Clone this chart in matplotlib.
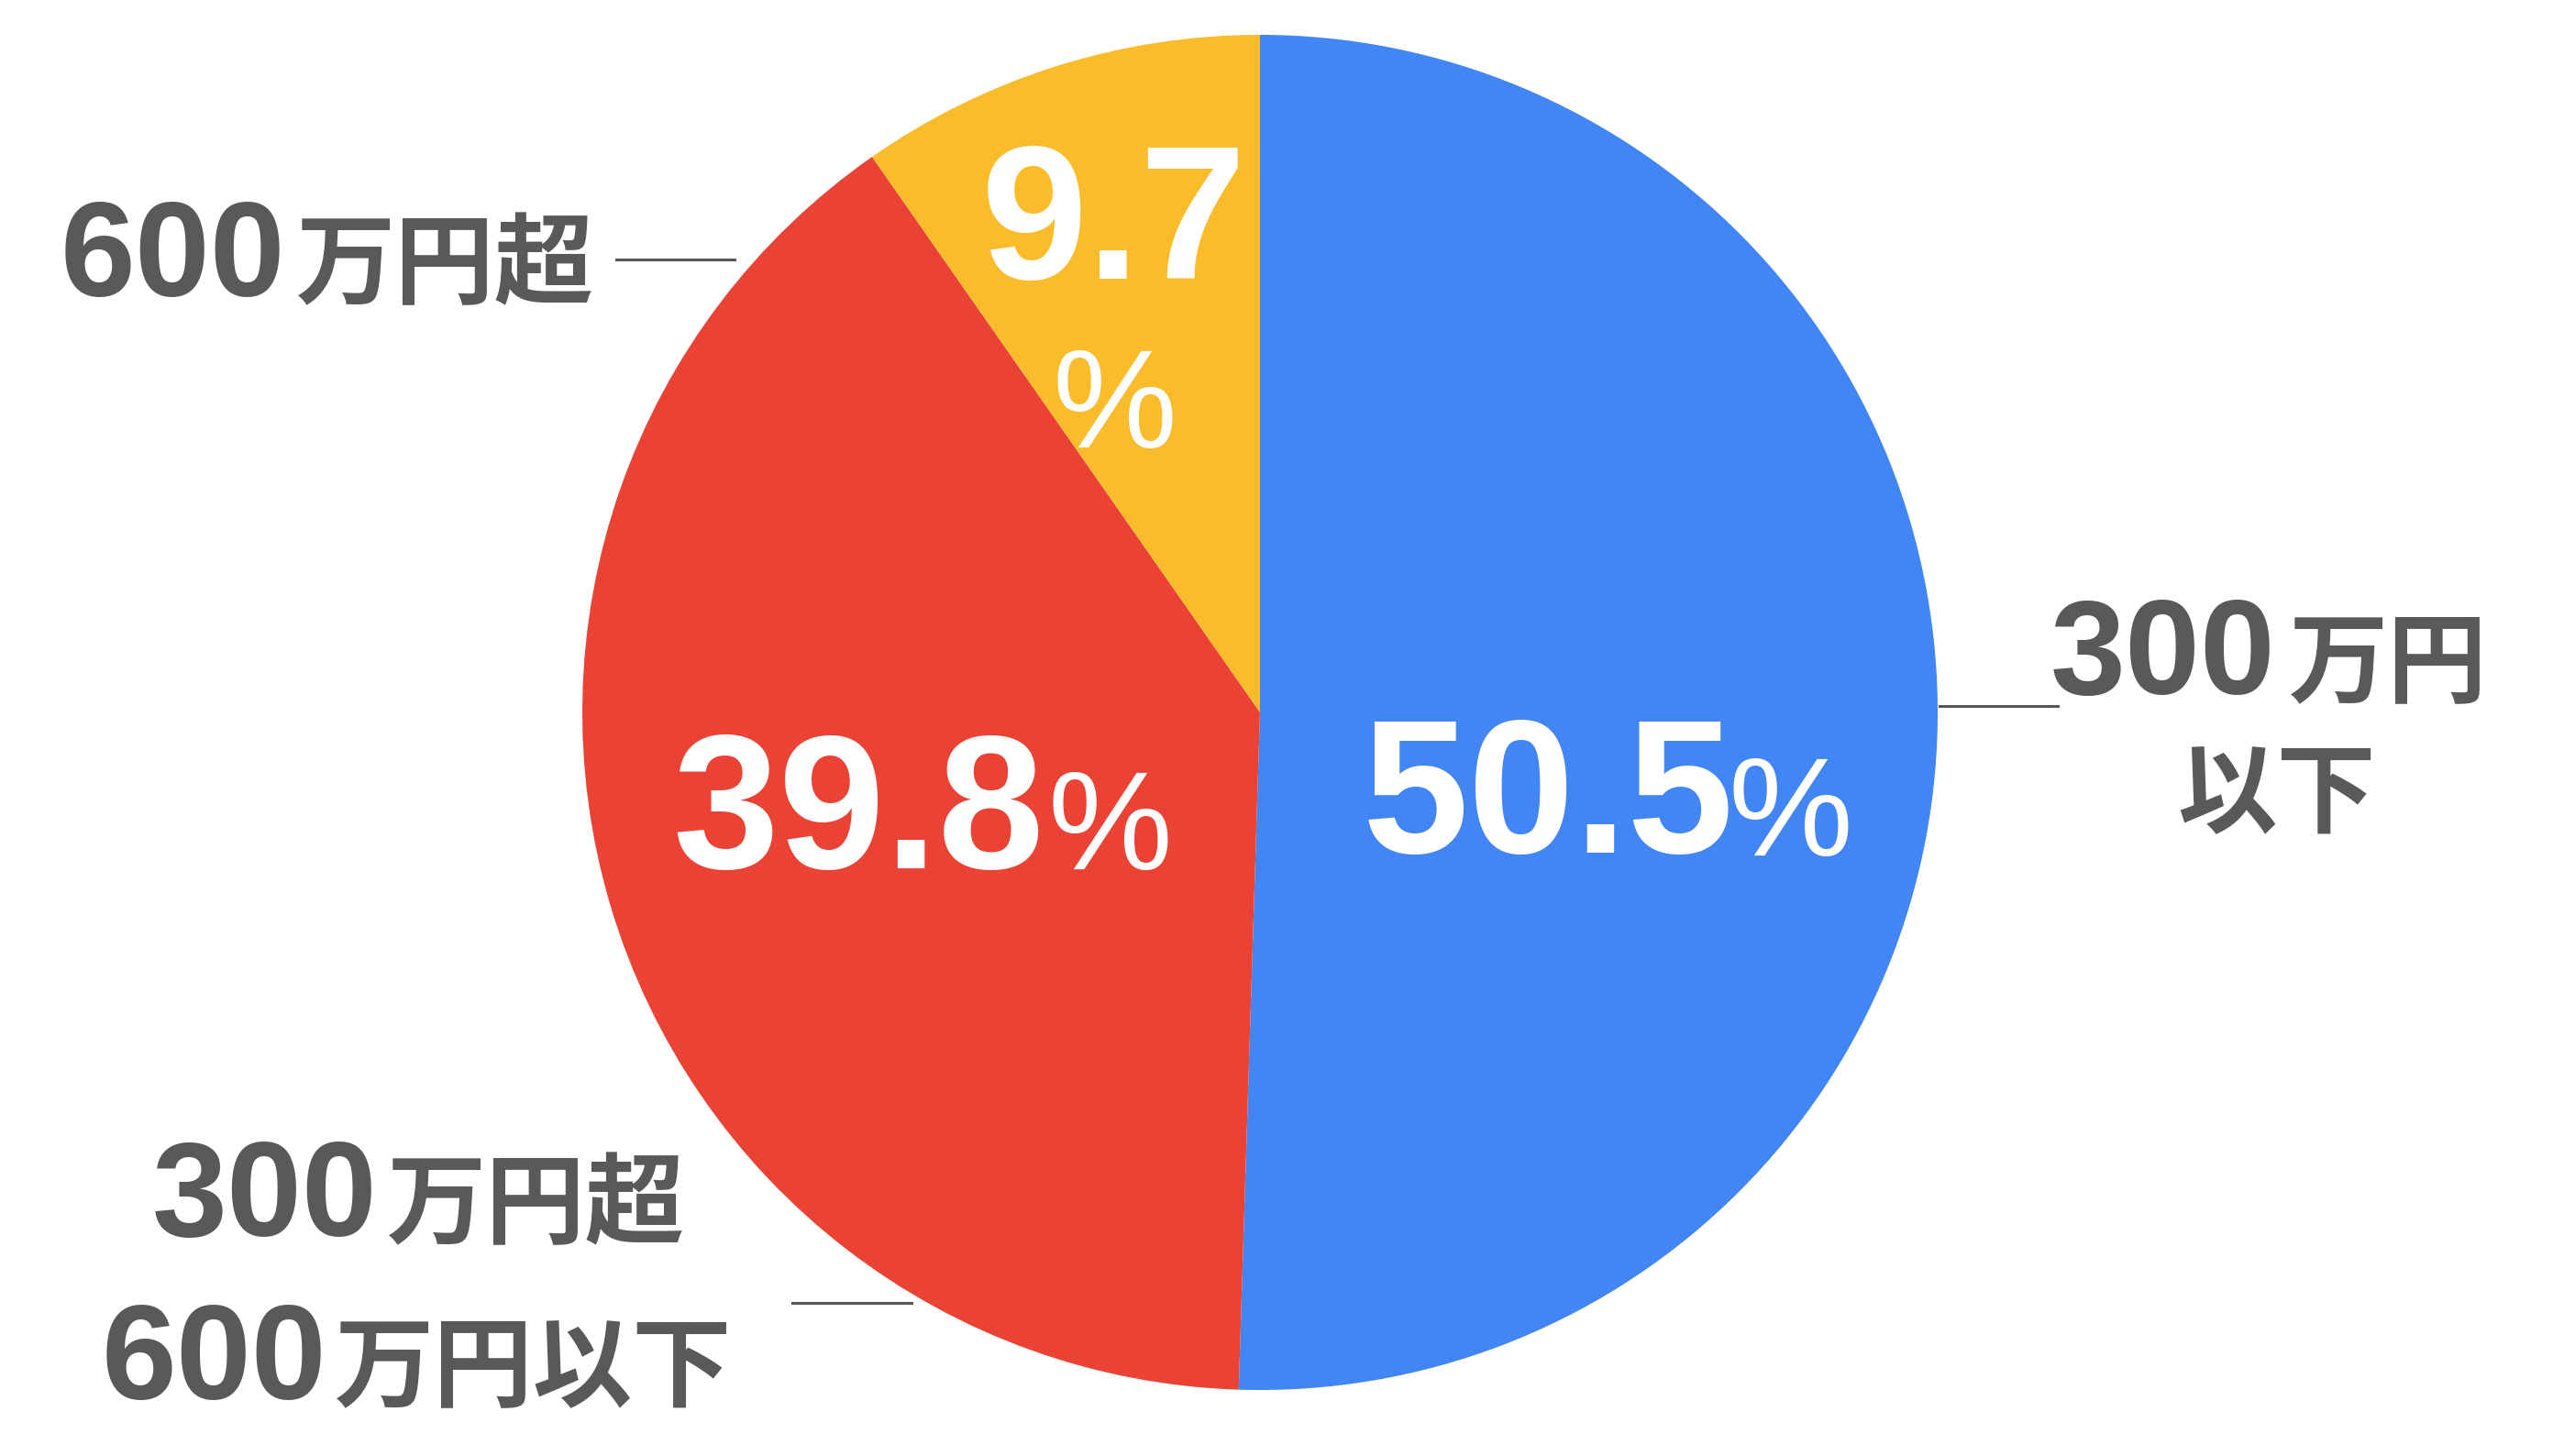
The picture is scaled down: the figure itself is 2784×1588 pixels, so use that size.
import matplotlib
matplotlib.use("Agg")
import matplotlib.pyplot as plt

# chart data
categories = ["300万円以下", "300万円超600万円以下", "600万円超"]
shares = [50.5, 39.8, 9.7]
colors = ["#4285F4", "#EA4335", "#FBBC2C"]

W, H = 2784, 1588          # canvas size in pixels, axes use the same units
gray = "#595959"
num_font = "Liberation Sans"
jp_font = ["Noto Sans CJK JP", "DejaVu Sans"]

fig = plt.figure(figsize=(W / 200, H / 200), dpi=200)
ax = fig.add_axes([0, 0, 1, 1])

ax.pie(shares, colors=colors, startangle=90, counterclock=False,
       center=(1374, H - 777), radius=739, frame=True,
       wedgeprops=dict(linewidth=0))
ax.set_xlim(0, W)
ax.set_ylim(0, H)
ax.set_aspect("equal")
ax.axis("off")


def Y(y):
    # image rows run downwards
    return H - y


def txt(x, y, s, size, weight="normal", family=num_font, color="white"):
    ax.text(x, Y(y), s, ha="center", va="baseline", fontsize=size,
            fontweight=weight, family=family, color=color)


# percentages inside the wedges
pct = ["%.1f" % v for v in shares]
txt(1688, 930, pct[0], 75, "bold")
txt(1952, 933, "%", 55)
txt(936, 947, pct[1], 75, "bold")
txt(1210, 948, "%", 55)
txt(1215, 304, pct[2], 75, "bold")
txt(1215, 488, "%", 55)

# outside category labels: bold numbers, japanese unit text
txt(2358, 757, "300", 53, "bold", color=gray)
txt(2604, 757, "万円", 39, "bold", jp_font, gray)
txt(2483, 900, "以下", 39, "bold", jp_font, gray)

txt(288, 1348, "300", 53, "bold", color=gray)
txt(585, 1348, "万円超", 39, "bold", jp_font, gray)
txt(233, 1526, "600", 53, "bold", color=gray)
txt(582, 1526, "万円以下", 39, "bold", jp_font, gray)

txt(188, 323, "600", 53, "bold", color=gray)
txt(486, 323, "万円超", 39, "bold", jp_font, gray)

# leader lines
for x0, x1, y in [(2115, 2244, 770), (864, 994, 1421), (672, 801, 283)]:
    ax.plot([x0, x1], [Y(y), Y(y)], color=gray, lw=1.1)

fig.savefig("out.png", dpi=200, facecolor="white")
